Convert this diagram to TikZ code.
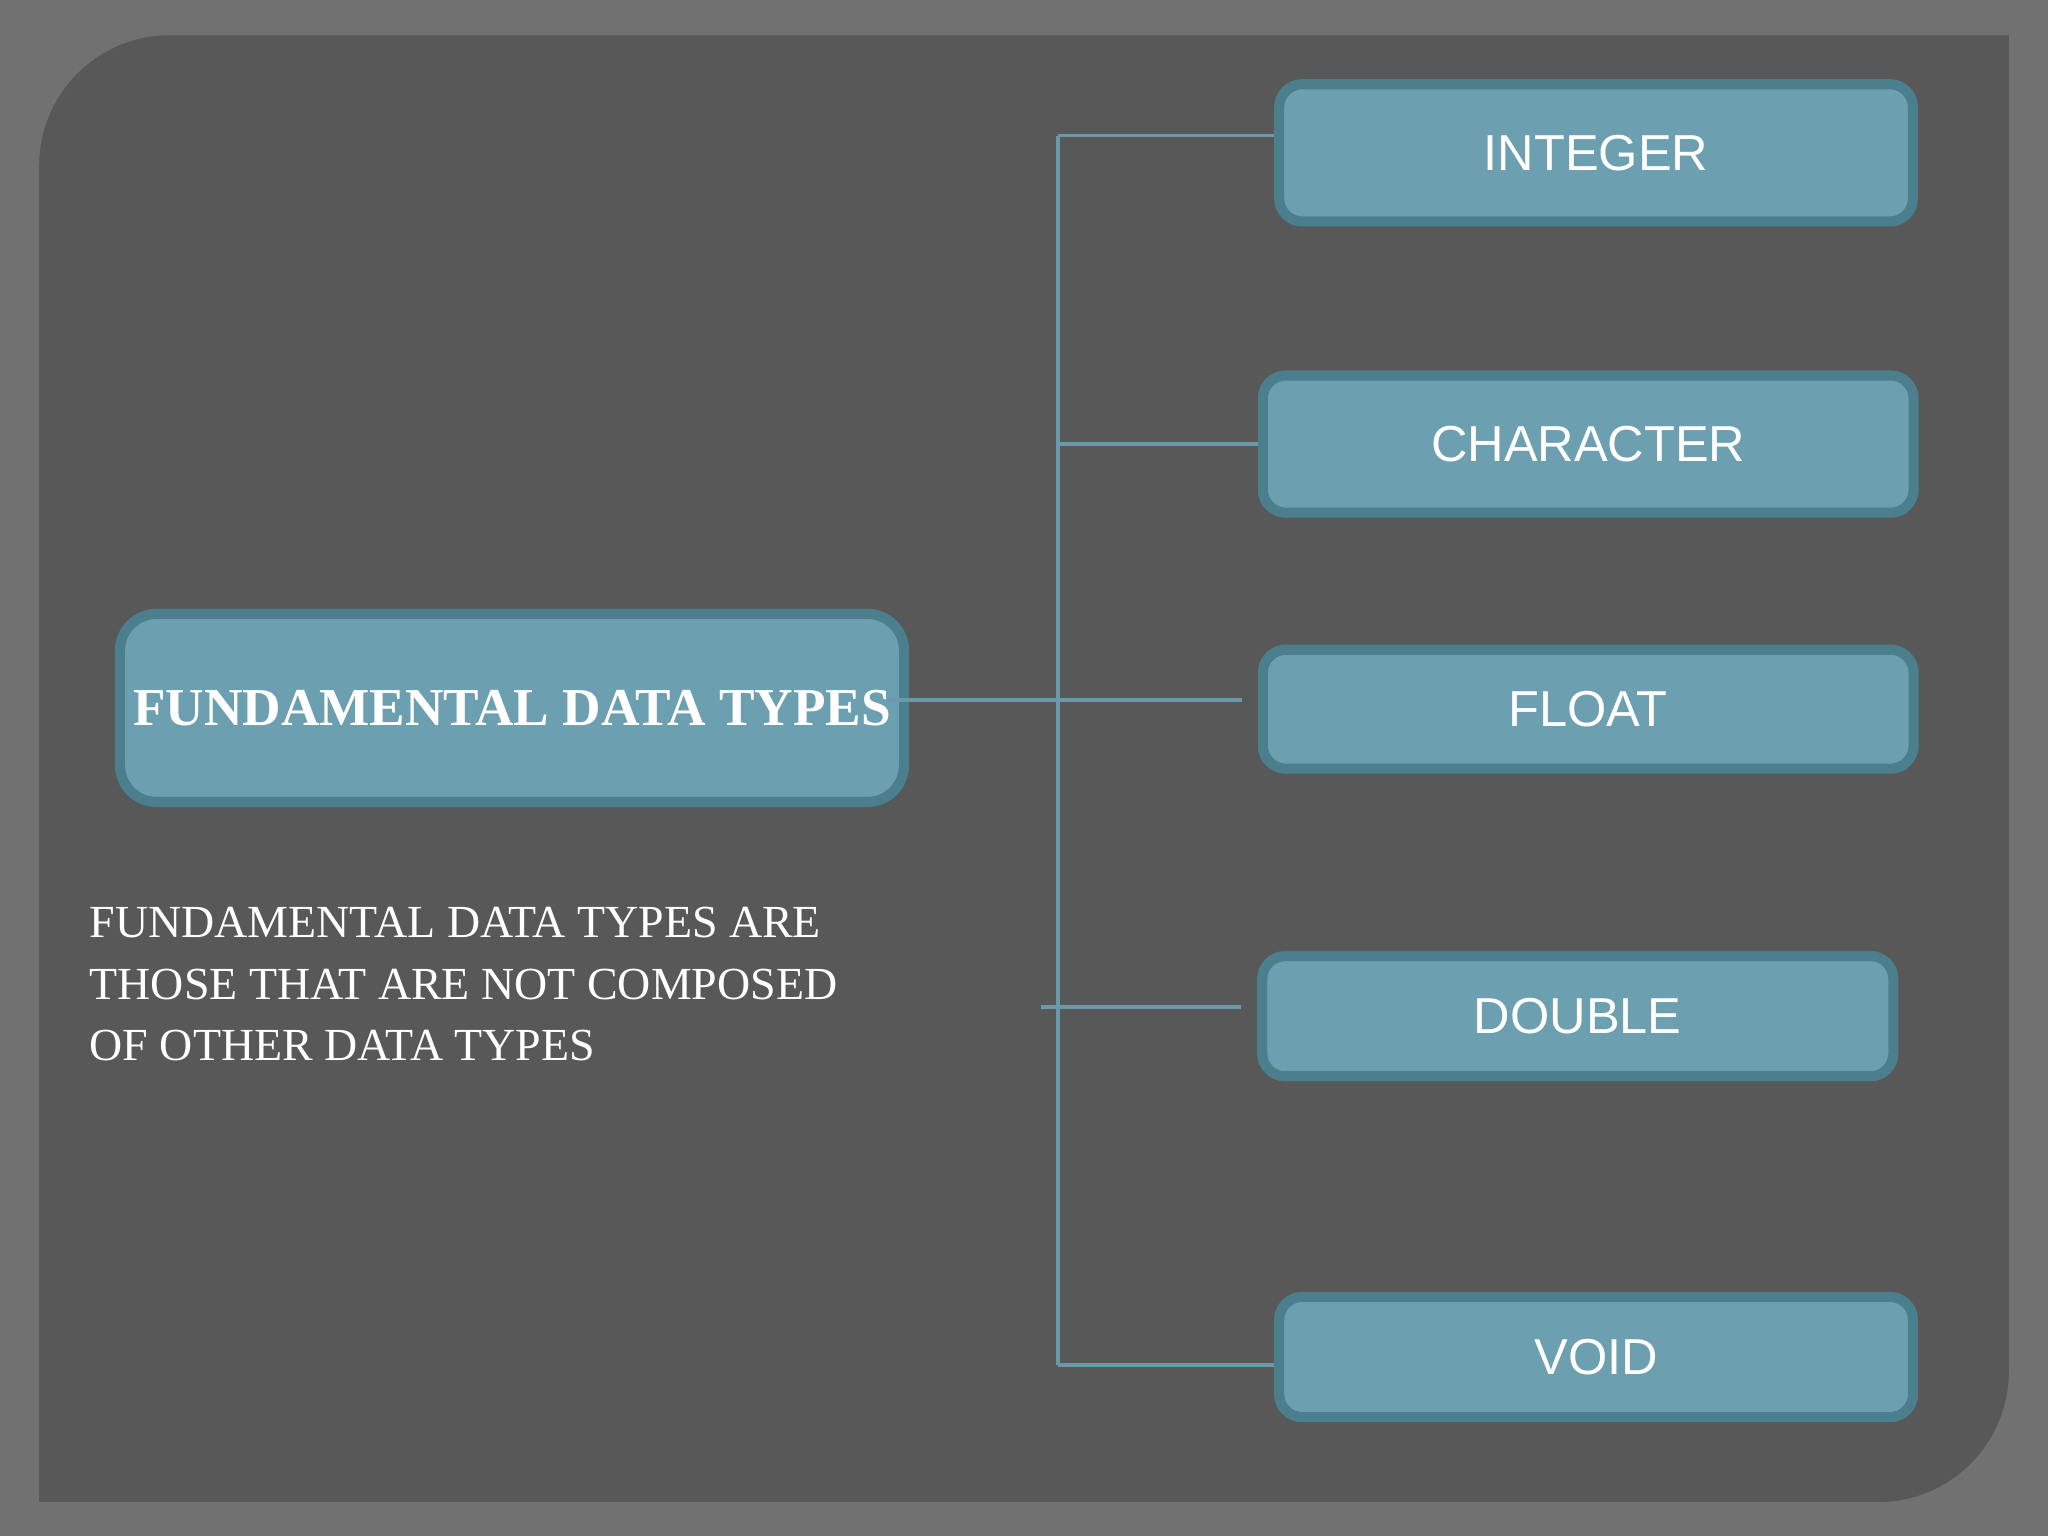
\documentclass[tikz,border=0pt]{standalone}
\usepackage{fontspec}
\setmainfont{Liberation Serif}
\newfontfamily\boxfont{Liberation Sans}
\definecolor{outerbg}{HTML}{717171}
\definecolor{panel}{HTML}{585858}
\definecolor{boxfill}{HTML}{6C9FB0}
\definecolor{boxedge}{HTML}{4B7F8E}
\definecolor{conn}{HTML}{6A9AAA}
\tikzset{
  tbox/.style={draw=boxedge, line width=2.2pt, fill=boxfill, rounded corners=5pt, inner sep=0pt, text=white, font=\boxfont\fontsize{11}{13}\selectfont},
  conline/.style={draw=conn, line width=0.7pt}
}
\begin{document}
\begin{tikzpicture}[x=0.01cm,y=-0.01cm]
\useasboundingbox (0,0) rectangle (1568,1176);
\fill[outerbg] (0,0) rectangle (1568,1176);
\fill[panel] (30,127) arc[start angle=180,end angle=270,radius=100] -- (1538,27) -- (1538,1050) arc[start angle=0,end angle=90,radius=100] -- (30,1150) -- cycle;
% boxes
\node[tbox, minimum width=4.85cm, minimum height=1.05cm] (int) at (1222,117) {INTEGER};
\node[tbox, minimum width=4.98cm, minimum height=1.05cm] (chr) at (1216,340) {CHARACTER};
\node[tbox, minimum width=4.98cm, minimum height=0.91cm] (flt) at (1216,543) {FLOAT};
\node[tbox, minimum width=4.83cm, minimum height=0.92cm] (dbl) at (1208,778) {DOUBLE};
\node[tbox, minimum width=4.85cm, minimum height=0.92cm] (vd) at (1222,1039) {VOID};
\node[tbox, minimum width=6.0cm, minimum height=1.44cm, rounded corners=8pt, font=\bfseries\fontsize{11.6}{13}\selectfont] (fdt) at (392,542) {FUNDAMENTAL DATA TYPES};
% connectors
\coordinate (top) at (810,104);
\coordinate (bot) at (810,1045);
\coordinate (dl) at (797,771);
\coordinate (fl) at (680,536);
\draw[conline] (top) -- (bot);
\draw[conline] (top) -- (int.west |- top);
\draw[conline] (810,340) -- (chr.west);
\draw[conline] (fl) -- ([xshift=-0.12cm]flt.west |- fl);
\draw[conline] (dl) -- ([xshift=-0.12cm]dbl.west |- dl);
\draw[conline] (bot) -- (vd.west |- bot);
% description
\node[anchor=north west, text=white, align=left, inner sep=0pt, font=\fontsize{10}{13.4}\selectfont] (desc) at (68,694) {FUNDAMENTAL DATA TYPES ARE\\THOSE THAT ARE NOT COMPOSED\\OF OTHER DATA TYPES};
\end{tikzpicture}
\end{document}
